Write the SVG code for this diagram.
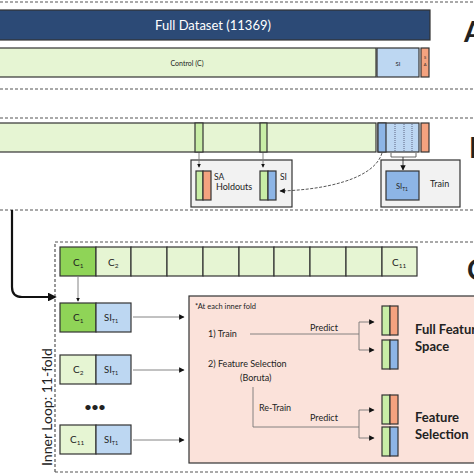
<svg xmlns="http://www.w3.org/2000/svg" width="474" height="474" viewBox="0 0 474 474">
<defs>
<style>
.t{font-family:Lato,"Liberation Sans",sans-serif;fill:#222}
.b{font-weight:bold}
.dash{stroke:#555;stroke-width:1.2;stroke-dasharray:3,2;fill:none}
.box{stroke:#333;stroke-width:1.2}
.lg{fill:#e6f5d3}
.dg{fill:#8fd457}
.mg{fill:#c8eda6}
.lb{fill:#bdd7f2}
.db{fill:#8db5e6}
.or{fill:#f4a27f}
.ln{stroke:#777;stroke-width:0.9;fill:none}
</style>
<marker id="ah" viewBox="0 0 10 10" refX="9" refY="5" markerWidth="6" markerHeight="6" orient="auto"><path d="M0,0 L10,5 L0,10 z" fill="#111"/></marker>
<marker id="ahb" viewBox="0 0 10 10" refX="8" refY="5" markerWidth="4" markerHeight="4" orient="auto"><path d="M0,0 L10,5 L0,10 z" fill="#111"/></marker>
</defs>
<rect width="474" height="474" fill="#fff"/>

<g id="separators">
<line class="dash" x1="0" y1="2" x2="474" y2="2"/>
<line class="dash" x1="0" y1="89" x2="474" y2="89"/>
<line class="dash" x1="0" y1="118" x2="474" y2="118"/>
<line class="dash" x1="0" y1="210" x2="474" y2="210"/>
<path class="dash" d="M55,472 V242 H474"/>
<line class="dash" x1="55" y1="472" x2="474" y2="472"/>
</g>

<g id="panel-labels">
<text class="t b" x="464" y="42" font-size="28">A</text>
<text class="t b" x="469" y="158" font-size="28">B</text>
<text class="t b" x="467" y="280" font-size="28">C</text>
</g>

<g id="full-dataset">
<rect x="-2" y="10" width="432" height="30" fill="#2c4a76" class="box"/>
<text x="213" y="30" font-size="13" text-anchor="middle" fill="#fff" font-family="Lato,'Liberation Sans',sans-serif">Full Dataset (11369)</text>
</g>
<g id="split-a">
<rect x="-2" y="48" width="378" height="29" class="box lg"/>
<text class="t" x="187" y="66" font-size="7" text-anchor="middle">Control (C)</text>
<rect x="377" y="48" width="42" height="29" class="box lb"/>
<text class="t" x="398" y="66" font-size="6" text-anchor="middle">SI</text>
<rect x="421" y="48" width="8" height="29" class="box or"/>
<text class="t" x="425" y="59" font-size="4" text-anchor="middle">S</text>
<text class="t" x="425" y="66" font-size="4" text-anchor="middle">A</text>
</g>

<g id="split-b">
<rect x="-2" y="123" width="378" height="29" class="box lg"/>
<rect x="195" y="123" width="8" height="29" class="box mg"/>
<rect x="260" y="123" width="7" height="29" class="box mg"/>
<rect x="378" y="123" width="41" height="29" class="box lb"/>
<rect x="378" y="123" width="8" height="29" class="box db"/>
<line x1="395" y1="124" x2="395" y2="151" stroke="#335" stroke-width="0.7" stroke-dasharray="1,1"/>
<line x1="404" y1="124" x2="404" y2="151" stroke="#335" stroke-width="0.7" stroke-dasharray="1,1"/>
<line x1="412" y1="124" x2="412" y2="151" stroke="#335" stroke-width="0.7" stroke-dasharray="1,1"/>
<rect x="421" y="123" width="8" height="29" class="box or"/>
</g>

<g id="holdouts">
<rect x="191" y="160" width="101" height="47" fill="#f2f2f2" class="box"/>
<rect x="196" y="171" width="7" height="29" class="box mg"/>
<rect x="203" y="171" width="8" height="29" class="box or"/>
<text class="t" x="214" y="180" font-size="8.5">SA</text>
<text class="t" x="216" y="190" font-size="9">Holdouts</text>
<rect x="260" y="171" width="8" height="29" class="box mg"/>
<rect x="268" y="171" width="8" height="29" class="box db"/>
<text class="t" x="280" y="180" font-size="8.5">SI</text>
</g>

<g id="train">
<rect x="381" y="160" width="79" height="47" fill="#f2f2f2" class="box"/>
<rect x="386" y="171" width="33" height="29" class="box db"/>
<text class="t" x="396" y="189" font-size="7.5">SI<tspan font-size="5" dy="2">T1</tspan></text>
<text class="t" x="430" y="187" font-size="9">Train</text>
</g>

<g id="folds">
<rect x="60" y="247" width="36" height="29" class="box dg"/>
<text class="t" x="73" y="266" font-size="10">C<tspan font-size="6.5" dy="2">1</tspan></text>
<rect x="96" y="247" width="35" height="29" class="box lg"/>
<text class="t" x="108" y="266" font-size="10">C<tspan font-size="6.5" dy="2">2</tspan></text>
<rect x="131" y="247" width="36" height="29" class="box lg"/>
<rect x="167" y="247" width="36" height="29" class="box lg"/>
<rect x="203" y="247" width="36" height="29" class="box lg"/>
<rect x="239" y="247" width="35" height="29" class="box lg"/>
<rect x="274" y="247" width="36" height="29" class="box lg"/>
<rect x="310" y="247" width="36" height="29" class="box lg"/>
<rect x="346" y="247" width="36" height="29" class="box lg"/>
<rect x="382" y="247" width="35" height="29" class="box lg"/>
<text class="t" x="392" y="266" font-size="10">C<tspan font-size="6.5" dy="2">11</tspan></text>
</g>

<g id="inner-rows">
<rect x="60" y="303" width="36" height="29" class="box dg"/>
<text class="t" x="73" y="321" font-size="10">C<tspan font-size="6.5" dy="2">1</tspan></text>
<rect x="96" y="303" width="35" height="29" class="box lb"/>
<text class="t" x="104" y="321" font-size="9.5">SI<tspan font-size="5.5" dy="2">T1</tspan></text>
<rect x="60" y="355" width="36" height="29" class="box lg"/>
<text class="t" x="73" y="373" font-size="10">C<tspan font-size="6.5" dy="2">2</tspan></text>
<rect x="96" y="355" width="35" height="29" class="box lb"/>
<text class="t" x="104" y="373" font-size="9.5">SI<tspan font-size="5.5" dy="2">T1</tspan></text>
<text class="t b" x="95" y="411" font-size="12" text-anchor="middle">•••</text>
<rect x="60" y="425" width="36" height="29" class="box lg"/>
<text class="t" x="70" y="443" font-size="10">C<tspan font-size="6.5" dy="2">11</tspan></text>
<rect x="96" y="425" width="35" height="29" class="box lb"/>
<text class="t" x="104" y="443" font-size="9.5">SI<tspan font-size="5.5" dy="2">T1</tspan></text>
<text class="t" x="0" y="0" font-size="14" text-anchor="middle" fill="#111" transform="translate(52,407) rotate(-90)">Inner Loop: 11-fold</text>
</g>

<g id="inner-fold-box">
<rect x="189" y="296" width="290" height="167" fill="#fbe2da" class="box"/>
<text class="t" x="195" y="309" font-size="7.5">*At each inner fold</text>
<text class="t" x="208" y="337" font-size="9">1) Train</text>
<text class="t" x="310" y="331" font-size="9">Predict</text>
<text class="t" x="208" y="367" font-size="9">2) Feature Selection</text>
<text class="t" x="240" y="381" font-size="9">(Boruta)</text>
<text class="t" x="259" y="411" font-size="9">Re-Train</text>
<text class="t" x="310" y="421" font-size="9">Predict</text>
<rect x="382" y="306" width="8" height="29" class="box mg"/>
<rect x="390" y="306" width="8" height="29" class="box or"/>
<rect x="382" y="340" width="8" height="29" class="box mg"/>
<rect x="390" y="340" width="8" height="29" class="box db"/>
<rect x="382" y="395" width="8" height="29" class="box mg"/>
<rect x="390" y="395" width="8" height="29" class="box or"/>
<rect x="382" y="427" width="8" height="29" class="box mg"/>
<rect x="390" y="427" width="8" height="29" class="box db"/>
<text class="t b" x="415" y="334" font-size="13">Full Feature</text>
<text class="t b" x="415" y="351" font-size="13">Space</text>
<text class="t b" x="415" y="422" font-size="13">Feature</text>
<text class="t b" x="415" y="439" font-size="13">Selection</text>
</g>

<g id="connectors">
<line x1="199" y1="153" x2="199" y2="167" class="ln" marker-end="url(#ahb)"/>
<line x1="263" y1="153" x2="263" y2="167" class="ln" marker-end="url(#ahb)"/>
<path d="M382,153 C374,180 322,190 280,191" fill="none" stroke="#444" stroke-width="0.9" stroke-dasharray="3,1.5" marker-end="url(#ah)"/>
<path d="M391,153 V157 H416 V153" fill="none" stroke="#555" stroke-width="0.9"/>
<line x1="403" y1="157" x2="403" y2="170" stroke="#333" stroke-width="0.9" marker-end="url(#ah)"/>
<path d="M12,210 V287 Q12,297 22,297 H55" fill="none" stroke="#111" stroke-width="2.2" marker-end="url(#ahb)"/>
<line x1="78" y1="277" x2="78" y2="301" class="ln" marker-end="url(#ahb)"/>
<line x1="133" y1="317" x2="184" y2="317" class="ln" marker-end="url(#ah)"/>
<line x1="133" y1="370" x2="184" y2="370" class="ln" marker-end="url(#ah)"/>
<line x1="133" y1="440" x2="184" y2="440" class="ln" marker-end="url(#ah)"/>
<path d="M250,334 H359" class="ln"/>
<path d="M359,322 V350" class="ln"/>
<line x1="359" y1="322" x2="374" y2="322" class="ln" marker-end="url(#ah)"/>
<line x1="359" y1="350" x2="374" y2="350" class="ln" marker-end="url(#ah)"/>
<path d="M253,387 V427 H359" class="ln"/>
<path d="M359,410 V438" class="ln"/>
<line x1="359" y1="410" x2="374" y2="410" class="ln" marker-end="url(#ah)"/>
<line x1="359" y1="438" x2="374" y2="438" class="ln" marker-end="url(#ah)"/>
</g>
</svg>
